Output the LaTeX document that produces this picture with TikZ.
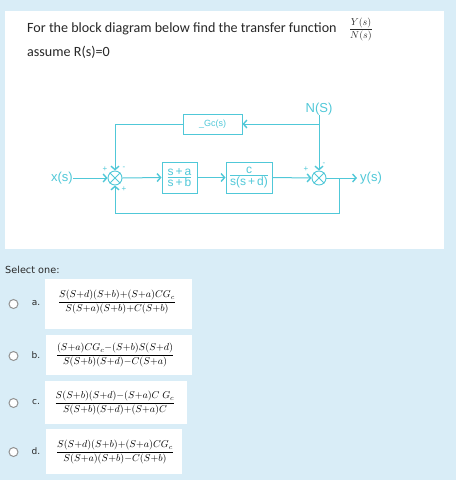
\documentclass[tikz,border=0pt]{standalone}
\usepackage{amsmath}
\usepackage{fontspec}
\setmainfont{Carlito}
\newfontfamily\arialf{Liberation Sans}
\newfontfamily\verdf{DejaVu Sans}
\usetikzlibrary{arrows.meta}
\definecolor{bg}{RGB}{217,237,247}
\definecolor{cy}{RGB}{80,200,216}
\definecolor{txt}{RGB}{40,40,40}
\tikzset{
  blk/.style={draw=cy, line width=1pt, minimum width=#1, minimum height=31pt, inner sep=0pt, text=cy, font=\arialf\fontsize{12}{13}\selectfont},
  blk/.default=40pt,
  sumj/.style={draw=cy, line width=0.9pt, circle, minimum size=14pt, inner sep=0pt},
  sig/.style={draw=cy, line width=1pt, -{Straight Barb[length=3.5pt,width=8pt,line width=1.4pt]}},
  lab/.style={text=cy, font=\arialf\fontsize{13}{14}\selectfont, inner sep=0pt},
  sgn/.style={text=cy, font=\arialf\fontsize{8}{9}\selectfont, inner sep=0pt},
  radio/.style={circle, draw=gray!85, fill=white, line width=1pt, minimum size=9pt, inner sep=0pt},
  optl/.style={text=txt, font=\verdf\fontsize{9}{10}\selectfont, inner sep=0pt},
  frac/.style={text=black, font=\fontsize{9.8}{11}\selectfont, inner sep=0pt}
}
\begin{document}
\begin{tikzpicture}[x=1pt,y=-1pt]
\fill[bg] (0,0) rectangle (456,480);
\useasboundingbox (0,0) rectangle (456,480);
\fill[white] (5,11) rectangle (444,249);
% question
\node[anchor=west, text=txt, font=\fontsize{14.1}{16}\selectfont, inner sep=0pt] (q1) at (27,29) {For the block diagram below find the transfer function};
\node[text=txt, font=\fontsize{10}{11}\selectfont, inner sep=0pt] (q2) at (361,29.5) {$\dfrac{Y(s)}{N(s)}$};
\node[anchor=west, text=txt, font=\fontsize{14.1}{16}\selectfont, inner sep=0pt] (q3) at (27,52) {assume R(s)=0};
% diagram
\node[lab, anchor=east] (xs) at (73,178) {x(s)};
\node[sumj] (s1) at (115,178) {};
\draw[cy, line width=0.9pt] (s1.north west) -- (s1.south east) (s1.north east) -- (s1.south west);
\node[blk=35pt] (b1) at (179.5,177.5) {$\frac{\mbox{s\,+\,a}}{\mbox{s\,+\,b}}$};
\node[blk=46pt] (b2) at (249,177.5) {$\frac{\mbox{c}}{\mbox{s(s\,+\,d)}}$};
\node[sumj] (s2) at (319,178) {};
\draw[cy, line width=0.9pt] (s2.north west) -- (s2.south east) (s2.north east) -- (s2.south west);
\node[lab, anchor=west] (ys) at (360,178) {y(s)};
\node[lab] (ns) at (319,109) {N(S)};
\node[draw=cy, line width=1pt, minimum width=59pt, minimum height=20pt, inner sep=0pt, text=cy, font=\arialf\fontsize{9}{10}\selectfont] (gc) at (212.5,124) {\_Gc(s)};
\coordinate (nb) at (319,124);
\coordinate (br) at (339,178);
\coordinate (bl) at (339,213);
\coordinate (bb) at (115,213);
\coordinate (gl) at (115,124);
\coordinate (ye) at (357,178);
\draw[sig] (xs.east) -- (s1.west);
\draw[sig] (s1.east) -- (b1.west);
\draw[sig] (b1.east) -- (b2.west);
\draw[sig] (b2.east) -- (s2.west);
\draw[sig] (s2.east) -- (ye);
\draw[sig] (ns.south) -- (s2.north);
\draw[sig] (nb) -- (gc.east);
\draw[sig] (gc.west) -- (gl) -- (s1.north);
\draw[sig] (br) -- (bl) -- (bb) -- (s1.south);
\node[sgn] (p1) at (105,169) {+};
\node[sgn] (m1) at (124,168) {-};
\node[sgn] (p2) at (124,189) {+};
\node[sgn] (p3) at (306,169) {+};
\node[sgn] (m2) at (324,164) {-};
% options
\node[anchor=west, text=txt, font=\verdf\fontsize{9.7}{11}\selectfont, inner sep=0pt] (sel) at (5,270) {Select one:};
\fill[white] (45,279) rectangle (192,329);
\fill[white] (46,335) rectangle (192,375);
\fill[white] (45,381) rectangle (187,424);
\fill[white] (46,429) rectangle (182,474);
\node[radio] (ra) at (13.5,304) {};
\node[radio] (rb) at (13.5,356) {};
\node[radio] (rc) at (13.5,403) {};
\node[radio] (rd) at (13.5,452) {};
\node[optl] (la) at (36,303) {a.};
\node[optl] (lb) at (36,355) {b.};
\node[optl] (lc) at (36,402) {c.};
\node[optl] (ld) at (36,451) {d.};
\node[frac] (fa) at (117,302) {$\dfrac{S(S{+}d)(S{+}b){+}(S{+}a)CG_c}{S(S{+}a)(S{+}b){+}C(S{+}b)}$};
\node[frac] (fb) at (115,355) {$\dfrac{(S{+}a)CG_c{-}(S{+}b)S(S{+}d)}{S(S{+}b)(S{+}d){-}C(S{+}a)}$};
\node[frac] (fc) at (115,403) {$\dfrac{S(S{+}b)(S{+}d){-}(S{+}a)C\;G_c}{S(S{+}b)(S{+}d){+}(S{+}a)C}$};
\node[frac] (fd) at (115,452) {$\dfrac{S(S{+}d)(S{+}b){+}(S{+}a)CG_c}{S(S{+}a)(S{+}b){-}C(S{+}b)}$};
\end{tikzpicture}
\end{document}
